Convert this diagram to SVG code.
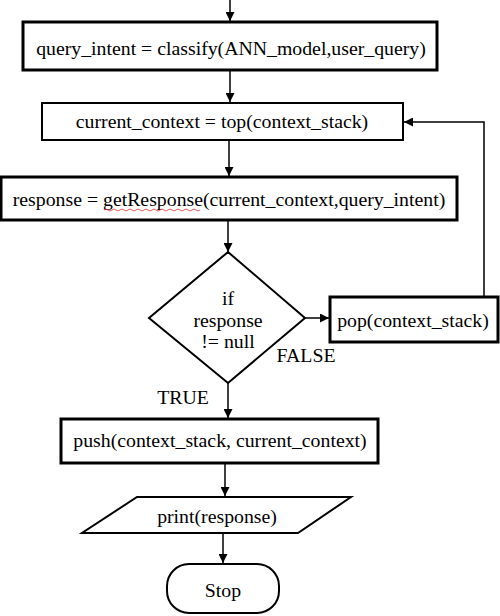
<svg xmlns="http://www.w3.org/2000/svg" width="500" height="616" viewBox="0 0 500 616">
<style>
text{font-family:"Liberation Serif","Times New Roman",serif;font-size:19.8px;fill:#000;text-anchor:middle}
.box{fill:#fff;stroke:#000;stroke-width:3}
.thin{fill:#fff;stroke:#000;stroke-width:2}
.conn{fill:none;stroke:#000;stroke-width:1.5}
</style>
<defs>
<marker id="arr" viewBox="0 0 10 10" refX="10" refY="5" markerWidth="9" markerHeight="9" markerUnits="userSpaceOnUse" orient="auto">
<path d="M0,0 L10,5 L0,10 z" fill="#000"/>
</marker>
</defs>
<g id="connectors">
<line class="conn" x1="230" y1="0" x2="230" y2="21" marker-end="url(#arr)"/>
<line class="conn" x1="230" y1="70" x2="230" y2="102" marker-end="url(#arr)"/>
<line class="conn" x1="229" y1="140" x2="229" y2="176" marker-end="url(#arr)"/>
<line class="conn" x1="228" y1="220" x2="228" y2="252" marker-end="url(#arr)"/>
<line class="conn" x1="305" y1="318" x2="329" y2="318" marker-end="url(#arr)"/>
<polyline class="conn" points="484,297 484,122 404,122" stroke="#333" marker-end="url(#arr)"/>
<line class="conn" x1="228" y1="383" x2="228" y2="418" marker-end="url(#arr)"/>
<line class="conn" x1="225" y1="463" x2="225" y2="496" marker-end="url(#arr)"/>
<line class="conn" x1="223" y1="533" x2="223" y2="563" marker-end="url(#arr)"/>
<text x="306" y="362">FALSE</text>
<text x="183" y="404">TRUE</text>
</g>
<g id="classify">
<rect class="box" x="23" y="22" width="414" height="48"/>
<text x="231" y="55">query_intent = classify(ANN_model,user_query)</text>
</g>
<g id="top">
<rect class="thin" x="42" y="103" width="361" height="37"/>
<text x="222" y="128">current_context = top(context_stack)</text>
</g>
<g id="getResponse">
<rect class="box" x="1" y="177" width="456" height="43"/>
<text x="229" y="206">response = getResponse(current_context,query_intent)</text>
<path d="M104,210 q2,-2 4,0 t4,0 t4,0 t4,0 t4,0 t4,0 t4,0 t4,0 t4,0 t4,0 t4,0 t4,0 t4,0 t4,0 t4,0 t4,0 t4,0 t4,0 t4,0 t4,0 t4,0 t4,0 t4,0 t4,0" fill="none" stroke="#e03030" stroke-width="0.8"/>
</g>
<g id="decision">
<polygon class="thin" points="228,252 305,318 228,383 149,318"/>
<text x="228" y="305">if</text>
<text x="228" y="327">response</text>
<text x="228" y="348">!= null</text>
</g>
<g id="pop">
<rect class="box" x="330" y="297" width="168" height="45"/>
<text x="413" y="327">pop(context_stack)</text>
</g>
<g id="push">
<rect class="box" x="61" y="419" width="317" height="44"/>
<text x="220" y="447">push(context_stack, current_context)</text>
</g>
<g id="print">
<polygon class="thin" points="137,497 351,497 298,533 82,533"/>
<text x="217" y="523">print(response)</text>
</g>
<g id="stop">
<rect class="thin" x="167" y="564" width="112" height="49" rx="22"/>
<text x="223" y="597">Stop</text>
</g>
</svg>
